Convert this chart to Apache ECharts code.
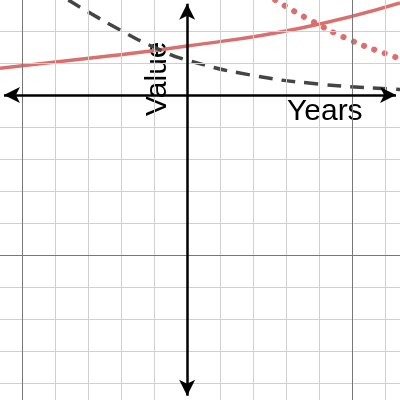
<!DOCTYPE html>
<html><head><meta charset="utf-8">
<script src="https://cdn.jsdelivr.net/npm/echarts@6/dist/echarts.min.js"></script>
<style>html,body{margin:0;padding:0;background:#fff}#c{width:400px;height:400px}</style>
</head><body><div id="c"></div>
<script>
// grid lines (graph units)
var minorX = [-5, -4, -3, -2, -1, 1, 2, 3, 4, 5, 6];
var majorX = [-5, 5];
var minorY = [2, 1, -1, -2, -3, -4, -5, -6, -7, -8, -9];
var majorY = [-5];

// curves
var growth = [[-5.67, 0.84], [-2.64, 1.19], [0, 1.53], [3.42, 2.09], [6.45, 2.88]];
var decay = [[-3.6, 2.97], [-2.03, 2.03], [-0.82, 1.41], [0, 1.09], [1.9, 0.63], [4.03, 0.34], [6.15, 0.19], [6.45, 0.17]];
var dotted = [[2.67, 2.97], [3.73, 2.34], [4.94, 1.72], [6.3, 1.19], [6.45, 1.15]];

var chart = echarts.init(document.getElementById('c'));

function vlines(list, color) {
    return list.map(function (v) { return { xAxis: v, lineStyle: { color: color, width: 1, type: 'solid' } }; });
}
function hlines(list, color) {
    return list.map(function (v) { return { yAxis: v, lineStyle: { color: color, width: 1, type: 'solid' } }; });
}

chart.setOption({
    animation: false,
    grid: { left: 0, right: 0, top: 0, bottom: 0 },
    xAxis: { type: 'value', min: -5.67, max: 6.45, show: false },
    yAxis: { type: 'value', min: -9.53, max: 2.97, show: false },
    series: [{
        type: 'line', data: [], silent: true,
        markLine: {
            symbol: 'none', label: { show: false }, silent: true,
            data: vlines(minorX, '#d0d0d0').concat(hlines(minorY, '#d0d0d0'))
                .concat(vlines(majorX, '#777')).concat(hlines(majorY, '#777'))
        }
    }, {
        type: 'line', data: [], silent: true,
        markLine: {
            symbol: ['arrow', 'arrow'], symbolSize: [12, 16], label: { show: false }, silent: true,
            data: [
                [{ coord: [-5.55, 0] }, { coord: [6.33, 0] }],
                [{ coord: [0, 2.85] }, { coord: [0, -9.4] }]
            ],
            lineStyle: { color: '#000', width: 2.5, type: 'solid' }
        }
    }, {
        type: 'line', smooth: true, showSymbol: false, data: growth,
        lineStyle: { color: '#d9706e', width: 3.5 }
    }, {
        type: 'line', smooth: true, showSymbol: false, data: decay,
        lineStyle: { color: '#454545', width: 3.5, type: [14, 9] }
    }, {
        type: 'line', smooth: true, showSymbol: false, data: dotted,
        lineStyle: { color: '#d9706e', width: 6, type: [0.1, 11], cap: 'round' }
    }],
    graphic: [
        { type: 'text', left: 287, top: 97, style: { text: 'Years', font: '30px "Liberation Sans", Arial', fill: '#000' } },
        { type: 'text', x: 143, y: 116, rotation: Math.PI / 2, style: { text: 'Value', font: '30px "Liberation Sans", Arial', fill: '#000' } }
    ]
});
</script>
</body></html>
